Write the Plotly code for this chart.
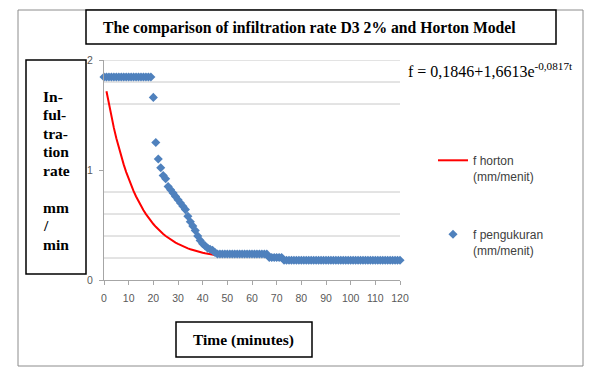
import plotly.graph_objects as go

# ---------------- data ----------------
t_measured = list(range(0, 121))
f_measured = (
    [1.846] * 20 +
    [1.66, 1.25, 1.10, 1.02, 0.95, 0.92, 0.85, 0.82, 0.79, 0.76,
     0.73, 0.70, 0.67, 0.64, 0.58, 0.53, 0.49, 0.45, 0.40, 0.36,
     0.33, 0.31, 0.29, 0.28, 0.27, 0.25] +
    [0.236] * 21 +
    [0.205] * 6 +
    [0.18] * 48
)

t_horton = list(range(1, 46))
f_horton = [1.7156, 1.5955, 1.4848, 1.3828, 1.2888, 1.2022, 1.1224, 1.0488, 0.9810, 0.9185,
            0.8609, 0.8079, 0.7590, 0.7139, 0.6724, 0.6341, 0.5989, 0.5664, 0.5364, 0.5088,
            0.4834, 0.4600, 0.4384, 0.4185, 0.4001, 0.3832, 0.3676, 0.3533, 0.3400, 0.3279,
            0.3166, 0.3063, 0.2967, 0.2879, 0.2798, 0.2723, 0.2655, 0.2591, 0.2533, 0.2479,
            0.2429, 0.2383, 0.2341, 0.2302, 0.2267]

x_ticks = list(range(0, 121, 10))
y_ticks = [0, 1, 2]
y_grid = [0.2, 0.4, 0.6, 0.8, 1.6, 1.8, 2.0]

title_text = "The comparison of infiltration rate D3 2% and Horton Model"
ytitle_lines = ["In-", "ful-", "tra-", "tion", "rate", "", "mm", "/", "min"]
xtitle_text = "Time (minutes)"
equation = "f = 0,1846+1,6613e<sup>-0,0817t</sup>"
name_horton = "f horton<br>(mm/menit)"
name_measured = "f pengukuran<br>(mm/menit)"

# ---------------- layout helpers ----------------
W, H = 591, 367
ML, MR, MT, MB = 104, 191, 60, 87
PW, PH = W - ML - MR, H - MT - MB


def px(x):
    return (x - ML) / PW


def py(y):
    return (H - MB - y) / PH


SERIF = "Liberation Serif, Times New Roman, serif"
SANS = "Liberation Sans, Arial, sans-serif"

fig = go.Figure()

fig.add_trace(go.Scatter(
    x=t_horton, y=f_horton, mode="lines", name=name_horton,
    line=dict(color="#FF0000", width=2), legend="legend",
))
fig.add_trace(go.Scatter(
    x=t_measured, y=f_measured, mode="markers", name=name_measured,
    marker=dict(symbol="diamond", size=7, color="#4F81BD"),
    cliponaxis=False, legend="legend2",
))

shapes = [
    # outer frame
    dict(type="rect", xref="paper", yref="paper", x0=px(18), x1=px(583), y0=py(366), y1=py(10),
         line=dict(color="#8C8C8C", width=1), layer="below"),
]
# horizontal gridlines
for g in y_grid:
    shapes.append(dict(type="line", xref="paper", yref="y", x0=0, x1=1, y0=g, y1=g,
                       line=dict(color="#C8C8C8", width=1), layer="below"))
shapes += [
    # title box
    dict(type="rect", xref="paper", yref="paper", x0=px(86), x1=px(556), y0=py(44), y1=py(10),
         line=dict(color="#000000", width=1.5), fillcolor="white"),
    # y title box
    dict(type="rect", xref="paper", yref="paper", x0=px(26), x1=px(86), y0=py(274), y1=py(60),
         line=dict(color="#000000", width=1.5), fillcolor="white"),
    # x title box
    dict(type="rect", xref="paper", yref="paper", x0=px(176), x1=px(312), y0=py(357), y1=py(322),
         line=dict(color="#000000", width=1.5), fillcolor="white"),
]

annotations = [
    dict(text=title_text, xref="paper", yref="paper", x=px(309), y=py(28),
         xanchor="center", yanchor="middle", showarrow=False,
         font=dict(family=SERIF, size=15.7, color="black", weight="bold")),
    dict(text=xtitle_text, xref="paper", yref="paper", x=px(243), y=py(340),
         xanchor="center", yanchor="middle", showarrow=False,
         font=dict(family=SERIF, size=15.5, color="black", weight="bold")),
    dict(text=equation, xref="paper", yref="paper", x=px(406), y=py(70),
         xanchor="left", yanchor="middle", showarrow=False,
         font=dict(family=SERIF, size=16, color="black")),
]
for i, line in enumerate(ytitle_lines):
    if not line:
        continue
    annotations.append(dict(
        text=line, xref="paper", yref="paper", x=px(41), y=py(96 + 18.5 * i),
        xanchor="left", yanchor="middle", showarrow=False,
        font=dict(family=SERIF, size=15.5, color="black", weight="bold")))

legend_common = dict(
    xref="paper", yref="paper", xanchor="left", yanchor="top",
    bgcolor="rgba(0,0,0,0)", borderwidth=0, valign="top",
    font=dict(family=SANS, size=12, color="#404040"), itemwidth=30,
)

fig.update_layout(
    width=W, height=H,
    margin=dict(l=ML, r=MR, t=MT, b=MB),
    paper_bgcolor="white", plot_bgcolor="white",
    showlegend=True,
    legend=dict(x=px(433), y=py(146), **legend_common),
    legend2=dict(x=px(433), y=py(220), **legend_common),
    xaxis=dict(
        range=[0, 120], tickvals=x_ticks, ticks="outside", ticklen=4,
        tickcolor="#A6A6A6", showline=True, linecolor="#A6A6A6", linewidth=1,
        showgrid=False, zeroline=False, ticklabelstandoff=4,
        tickfont=dict(family=SANS, size=10.5, color="#595959"),
    ),
    yaxis=dict(
        range=[0, 2], tickvals=y_ticks, ticks="outside", ticklen=4,
        tickcolor="#A6A6A6", showline=True, linecolor="#A6A6A6", linewidth=1,
        showgrid=False, zeroline=False, ticklabelstandoff=4,
        tickfont=dict(family=SANS, size=10.5, color="#595959"),
    ),
    shapes=shapes,
    annotations=annotations,
)

fig.write_html("out.html")
